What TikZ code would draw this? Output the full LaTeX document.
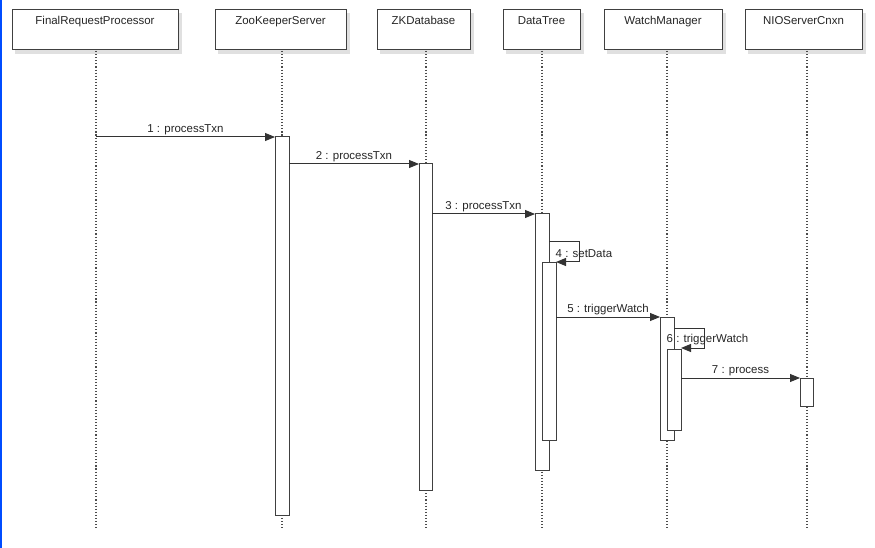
\documentclass[tikz,border=0pt]{standalone}
\usepackage{fontspec}
\setmainfont{Liberation Sans}
\usetikzlibrary{arrows.meta}
\begin{document}
\begin{tikzpicture}
[x=1bp,y=-1bp,
 obj/.style={draw=black!75,fill=white,line width=1bp},
 life/.style={draw=black!70,dotted,line width=1.1bp},
 act/.style={draw=black!75,fill=white,line width=1bp},
 msg/.style={draw=black!80,line width=1bp,arrows={-Triangle[length=10bp,width=8bp]}},
 lbl/.style={font=\fontsize{11.5}{13}\selectfont,text=black!85,inner sep=1.5bp}]
\useasboundingbox (0,0) rectangle (875,548);
\fill[white] (0,0) rectangle (875,548);
\draw[blue!70!cyan,line width=2bp] (1,0) -- (1,548);
% objects
\foreach \n/\l/\r/\t in {frp/12/178/FinalRequestProcessor,zks/215/346/ZooKeeperServer,
    zkd/377/470/ZKDatabase,dt/503/580/DataTree,wm/604/722/WatchManager,nio/745/862/NIOServerCnxn}{
  \fill[black!12] (\l+3,13) rectangle (\r+4,54);
  \draw[obj] (\l,10) rectangle (\r,50);
  \node[lbl,anchor=north] (\n) at ({(\l+\r)/2},15) {\t};
}
% lifelines
\foreach \n/\x in {frp/96,zks/282,zkd/426,dt/542,wm/667,nio/807}{
  \coordinate (\n top) at (\x,51);
  \coordinate (\n bot) at (\x,530);
  \draw[life] (\n top) -- (\n bot);
}
% activations
\draw[act] (275,137) rectangle (289,515);
\draw[act] (419,164) rectangle (432,490);
\draw[act] (535,214) rectangle (549,470);
\draw[act] (542,263) rectangle (556,440);
\draw[act] (660,317) rectangle (674,440);
\draw[act] (667,349) rectangle (681,430);
\draw[act] (800,378) rectangle (813,406);
% messages
\coordinate (m1a) at (96,137);  \coordinate (m1b) at (275,137);
\coordinate (m2a) at (289,164); \coordinate (m2b) at (419,164);
\coordinate (m3a) at (432,214); \coordinate (m3b) at (535,214);
\coordinate (m5a) at (556,317); \coordinate (m5b) at (660,317);
\coordinate (m7a) at (681,378); \coordinate (m7b) at (800,378);
\draw[msg] (m1a) -- node[lbl,above] {1 : processTxn} (m1b);
\draw[msg] (m2a) -- node[lbl,above] {2 : processTxn} (m2b);
\draw[msg] (m3a) -- node[lbl,above] {3 : processTxn} (m3b);
\draw[msg] (m5a) -- node[lbl,above] {5 : triggerWatch} (m5b);
\draw[msg] (m7a) -- node[lbl,above] {7 : process} (m7b);
% self calls
\coordinate (s4a) at (549,242); \coordinate (s4b) at (556,262);
\draw[msg] (s4a) -- (579,242) -- (579,262) -- (s4b);
\node[lbl,anchor=west] at (554,254) {4 : setData};
\coordinate (s6a) at (674,328); \coordinate (s6b) at (681,348);
\draw[msg] (s6a) -- (704,328) -- (704,348) -- (s6b);
\node[lbl,anchor=west] at (665,340) {6 : triggerWatch};
\end{tikzpicture}
\end{document}
